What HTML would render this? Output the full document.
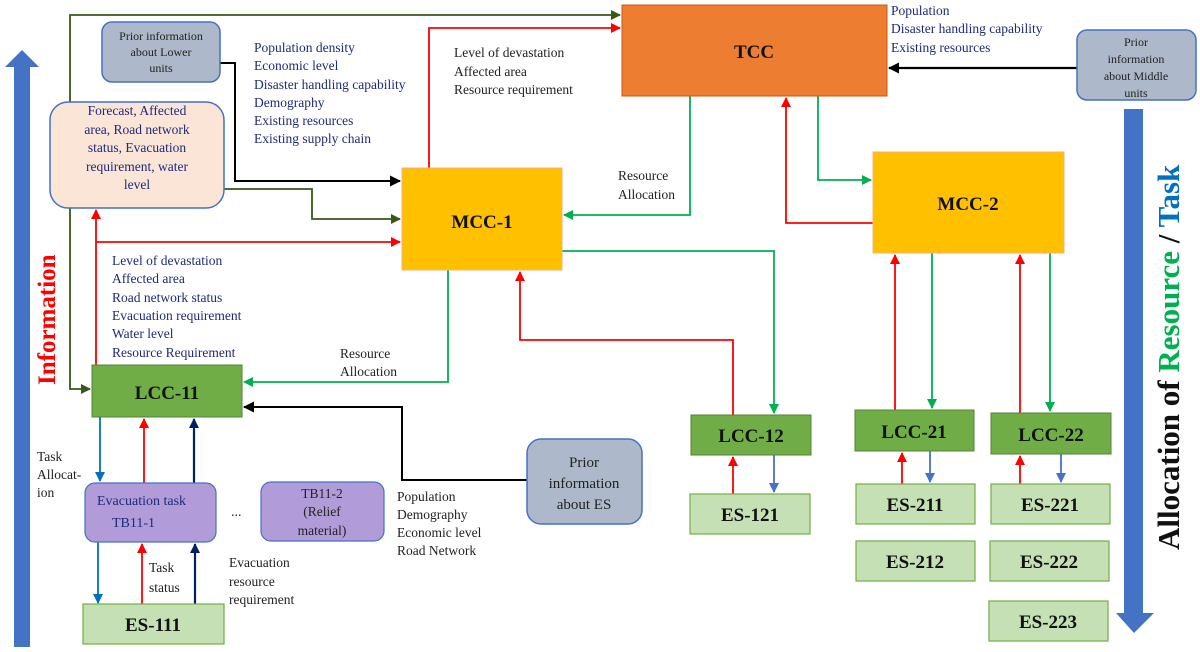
<!DOCTYPE html>
<html><head><meta charset="utf-8"><style>
html,body{margin:0;padding:0;background:#fff}
svg{display:block}
text{font-family:"Liberation Serif",serif}
.b{fill:#1F2A7A;font-size:13.5px}
.k{fill:#222;font-size:13.5px}
.L{font-weight:bold;font-size:19px;fill:#111;text-anchor:middle}
</style></head><body>
<svg width="1200" height="652" viewBox="0 0 1200 652" xmlns="http://www.w3.org/2000/svg">
<defs>
<marker id="ar" markerWidth="10" markerHeight="10" refX="9" refY="5" orient="auto" markerUnits="userSpaceOnUse"><path d="M0,0 L10,5 L0,10z" fill="#FF0000"/></marker>
<marker id="ag" markerWidth="10" markerHeight="10" refX="9" refY="5" orient="auto" markerUnits="userSpaceOnUse"><path d="M0,0 L10,5 L0,10z" fill="#00B050"/></marker>
<marker id="ad" markerWidth="10" markerHeight="10" refX="9" refY="5" orient="auto" markerUnits="userSpaceOnUse"><path d="M0,0 L10,5 L0,10z" fill="#38571A"/></marker>
<marker id="ak" markerWidth="11" markerHeight="11" refX="10" refY="5.5" orient="auto" markerUnits="userSpaceOnUse"><path d="M0,0 L11,5.5 L0,11z" fill="#000"/></marker>
<marker id="ab" markerWidth="10" markerHeight="10" refX="9" refY="5" orient="auto" markerUnits="userSpaceOnUse"><path d="M0,0 L10,5 L0,10z" fill="#4472C4"/></marker>
<marker id="al" markerWidth="10" markerHeight="10" refX="9" refY="5" orient="auto" markerUnits="userSpaceOnUse"><path d="M0,0 L10,5 L0,10z" fill="#0070C0"/></marker>
<marker id="an" markerWidth="10" markerHeight="10" refX="9" refY="5" orient="auto" markerUnits="userSpaceOnUse"><path d="M0,0 L10,5 L0,10z" fill="#002060"/></marker>
</defs>

<rect x="14" y="66" width="16" height="581" fill="#4472C4"/>
<polygon points="5,67 22,50 39,67" fill="#4472C4"/>
<rect x="1124" y="109" width="19" height="505" fill="#4472C4"/>
<polygon points="1116,613 1154,613 1134,633" fill="#4472C4"/>

<text transform="translate(55,385) rotate(-90)" font-size="25" font-weight="bold" fill="#FF0000">Information</text>
<text transform="translate(1179,550) rotate(-90)" font-size="31" font-weight="bold" fill="#111">Allocation of <tspan fill="#00B050">Resource</tspan> / <tspan fill="#0070C0">Task</tspan></text>

<g fill="none" stroke-width="1.8">
<polyline points="70,102 70,15 620,15" stroke="#38571A" marker-end="url(#ad)"/>
<polyline points="429,168 429,28 620,28" stroke="#FF0000" marker-end="url(#ar)"/>
<polyline points="220,63 235,63 235,181 400,181" stroke="#000" stroke-width="2" marker-end="url(#ak)"/>
<polyline points="224,189 312,189 312,219 400,219" stroke="#38571A" marker-end="url(#ad)"/>
<polyline points="96,365 96,210" stroke="#FF0000" marker-end="url(#ar)"/>
<polyline points="96,242 400,242" stroke="#FF0000" marker-end="url(#ar)"/>
<polyline points="70,208 70,389 90,389" stroke="#38571A" marker-end="url(#ad)"/>
<polyline points="448,270 448,382 244,382" stroke="#00B050" marker-end="url(#ag)"/>
<polyline points="527,480 402,480 402,407 244,407" stroke="#000" stroke-width="2" marker-end="url(#ak)"/>
<polyline points="1077,68 889,68" stroke="#000" stroke-width="2.2" marker-end="url(#ak)"/>
<polyline points="690,96 690,215 564,215" stroke="#00B050" marker-end="url(#ag)"/>
<polyline points="873,223 786,223 786,98" stroke="#FF0000" marker-end="url(#ar)"/>
<polyline points="818,96 818,180 871,180" stroke="#00B050" marker-end="url(#ag)"/>
<polyline points="562,251 774,251 774,413" stroke="#00B050" marker-end="url(#ag)"/>
<polyline points="733,415 733,340 520,340 520,272" stroke="#FF0000" marker-end="url(#ar)"/>
<polyline points="895,410 895,255" stroke="#FF0000" marker-end="url(#ar)"/>
<polyline points="932,253 932,408" stroke="#00B050" marker-end="url(#ag)"/>
<polyline points="1020,413 1020,255" stroke="#FF0000" marker-end="url(#ar)"/>
<polyline points="1050,253 1050,411" stroke="#00B050" marker-end="url(#ag)"/>
<polyline points="733,494 733,457" stroke="#FF0000" marker-end="url(#ar)"/>
<polyline points="774,455 774,492" stroke="#4472C4" marker-end="url(#ab)"/>
<polyline points="902,484 902,453" stroke="#FF0000" marker-end="url(#ar)"/>
<polyline points="930,451 930,482" stroke="#4472C4" marker-end="url(#ab)"/>
<polyline points="1020,484 1020,456" stroke="#FF0000" marker-end="url(#ar)"/>
<polyline points="1061,454 1061,482" stroke="#4472C4" marker-end="url(#ab)"/>
<polyline points="100,417 100,481" stroke="#0070C0" marker-end="url(#al)"/>
<polyline points="144,483 144,419" stroke="#FF0000" marker-end="url(#ar)"/>
<polyline points="194,483 194,419" stroke="#002060" stroke-width="2.2" marker-end="url(#an)"/>
<polyline points="98,542 98,603" stroke="#0070C0" marker-end="url(#al)"/>
<polyline points="142,604 142,544" stroke="#FF0000" marker-end="url(#ar)"/>
<polyline points="195,604 195,544" stroke="#002060" stroke-width="2.2" marker-end="url(#an)"/>
</g>

<rect x="622" y="5" width="265" height="91" fill="#ED7D31" stroke="#C55A11" stroke-width="1"/>
<text x="754" y="58" class="L" font-size="22">TCC</text>
<rect x="102" y="22" width="118" height="60" rx="10" fill="#ADB9CA" stroke="#4472C4" stroke-width="1.5"/>
<text font-size="12" fill="#222" text-anchor="middle"><tspan x="161" y="40">Prior information</tspan><tspan x="161" y="56">about Lower</tspan><tspan x="161" y="72">units</tspan></text>
<rect x="1077" y="30" width="119" height="70" rx="10" fill="#ADB9CA" stroke="#4472C4" stroke-width="1.5"/>
<text font-size="12" fill="#222" text-anchor="middle"><tspan x="1136" y="46">Prior</tspan><tspan x="1136" y="63">information</tspan><tspan x="1136" y="80">about Middle</tspan><tspan x="1136" y="97">units</tspan></text>
<rect x="50" y="102" width="174" height="106" rx="18" fill="#FBE5D6" stroke="#4472C4" stroke-width="1.5"/>
<text font-size="13.5" fill="#1F2A7A" text-anchor="middle"><tspan x="137" y="115">Forecast, Affected</tspan><tspan x="137" y="134">area,  Road network</tspan><tspan x="137" y="152">status, Evacuation</tspan><tspan x="137" y="171">requirement, water</tspan><tspan x="137" y="189">level</tspan></text>
<rect x="402" y="168" width="160" height="102" fill="#FFC000" stroke="#F4B183" stroke-width="1"/>
<text x="482" y="228" class="L" font-size="22">MCC-1</text>
<rect x="873" y="152" width="191" height="101" fill="#FFC000" stroke="#F4B183" stroke-width="1"/>
<text x="968" y="210" class="L" font-size="22">MCC-2</text>
<rect x="92" y="365" width="150" height="52" fill="#70AD47" stroke="#548235"/>
<text x="167" y="399" class="L" font-size="20">LCC-11</text>
<rect x="691" y="415" width="120" height="40" fill="#70AD47" stroke="#548235"/>
<text x="751" y="442" class="L" font-size="18">LCC-12</text>
<rect x="855" y="410" width="119" height="41" fill="#70AD47" stroke="#548235"/>
<text x="914" y="438" class="L" font-size="18">LCC-21</text>
<rect x="991" y="413" width="120" height="41" fill="#70AD47" stroke="#548235"/>
<text x="1051" y="441" class="L" font-size="18">LCC-22</text>
<g fill="#C5E0B4" stroke="#70AD47" stroke-width="1.2">
<rect x="83" y="604" width="141" height="40"/>
<rect x="690" y="494" width="120" height="40"/>
<rect x="856" y="484" width="119" height="40"/>
<rect x="991" y="484" width="119" height="40"/>
<rect x="856" y="541" width="119" height="40"/>
<rect x="990" y="541" width="119" height="40"/>
<rect x="989" y="601" width="119" height="40"/>
</g>
<text x="153" y="631" class="L" font-size="18">ES-111</text>
<text x="750" y="521" class="L" font-size="18">ES-121</text>
<text x="915" y="511" class="L" font-size="18">ES-211</text>
<text x="1050" y="511" class="L" font-size="18">ES-221</text>
<text x="915" y="568" class="L" font-size="18">ES-212</text>
<text x="1049" y="568" class="L" font-size="18">ES-222</text>
<text x="1048" y="628" class="L" font-size="18">ES-223</text>

<rect x="85" y="483" width="131" height="59" rx="10" fill="#B19CD9" stroke="#4472C4" stroke-width="1.2"/>
<text font-size="14" fill="#1F2A7A"><tspan x="97" y="505">Evacuation  task</tspan><tspan x="112" y="527">TB11-1</tspan></text>
<rect x="261" y="482" width="123" height="59" rx="10" fill="#B19CD9" stroke="#4472C4" stroke-width="1.2"/>
<text font-size="13.5" fill="#222" text-anchor="middle"><tspan x="322" y="498">TB11-2</tspan><tspan x="322" y="516">(Relief</tspan><tspan x="322" y="535">material)</tspan></text>
<text x="231" y="516" font-size="14" fill="#222">...</text>
<rect x="527" y="439" width="115" height="85" rx="14" fill="#ADB9CA" stroke="#4472C4" stroke-width="1.5"/>
<text font-size="15" fill="#222" text-anchor="middle"><tspan x="584" y="467">Prior</tspan><tspan x="584" y="488">information</tspan><tspan x="584" y="509">about  ES</tspan></text>

<text class="b"><tspan x="254" y="52">Population density</tspan><tspan x="254" y="70">Economic level</tspan><tspan x="254" y="89">Disaster handling capability</tspan><tspan x="254" y="107">Demography</tspan><tspan x="254" y="125">Existing resources</tspan><tspan x="254" y="143">Existing supply chain</tspan></text>
<text class="k"><tspan x="454" y="57">Level of  devastation</tspan><tspan x="454" y="76">Affected area</tspan><tspan x="454" y="94">Resource requirement</tspan></text>
<text class="b"><tspan x="891" y="15">Population</tspan><tspan x="891" y="33">Disaster handling capability</tspan><tspan x="891" y="52">Existing resources</tspan></text>
<text class="b"><tspan x="112" y="265">Level of  devastation</tspan><tspan x="112" y="283">Affected  area</tspan><tspan x="112" y="302">Road network status</tspan><tspan x="112" y="320">Evacuation requirement</tspan><tspan x="112" y="338">Water level</tspan><tspan x="112" y="357">Resource Requirement</tspan></text>
<text class="k" font-size="13"><tspan x="340" y="358">Resource</tspan><tspan x="340" y="376">Allocation</tspan></text>
<text class="k" font-size="13"><tspan x="618" y="180">Resource</tspan><tspan x="618" y="199">Allocation</tspan></text>
<text class="k" font-size="13"><tspan x="397" y="501">Population</tspan><tspan x="397" y="519">Demography</tspan><tspan x="397" y="537">Economic level</tspan><tspan x="397" y="555">Road Network</tspan></text>
<text class="k" font-size="13"><tspan x="37" y="461">Task</tspan><tspan x="37" y="479">Allocat-</tspan><tspan x="37" y="497">ion</tspan></text>
<text class="k" font-size="13"><tspan x="149" y="572">Task</tspan><tspan x="149" y="592">status</tspan></text>
<text class="k" font-size="13"><tspan x="229" y="567">Evacuation</tspan><tspan x="229" y="586">resource</tspan><tspan x="229" y="604">requirement</tspan></text>
</svg>
</body></html>
